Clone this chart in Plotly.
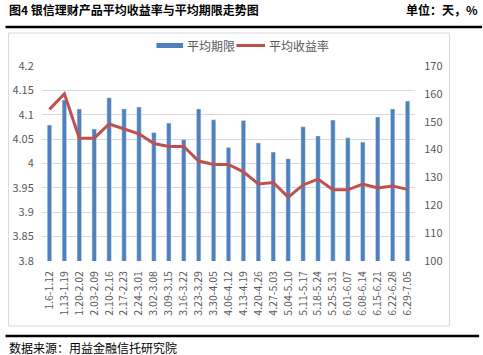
import plotly.graph_objects as go

categories = ["1.6-1.12", "1.13-1.19", "1.20-2.02", "2.03-2.09", "2.10-2.16", "2.17-2.23",
              "2.24-3.01", "3.02-3.08", "3.09-3.15", "3.16-3.22", "3.23-3.29", "3.30-4.05",
              "4.06-4.12", "4.13-4.19", "4.20-4.26", "4.27-5.03", "5.04-5.10", "5.11-5.17",
              "5.18-5.24", "5.25-5.31", "6.01-6.07", "6.08-6.14", "6.15-6.21", "6.22-6.28",
              "6.29-7.05"]
avg_term = [148.8, 157.8, 154.6, 147.4, 158.6, 154.6, 155.3, 146.1, 149.5, 143.6, 154.6, 150.7,
            140.7, 150.4, 142.4, 139.1, 136.7, 148.2, 144.9, 150.6, 144.2, 142.7, 151.7, 154.6,
            157.4]
avg_yield = [4.111, 4.143, 4.052, 4.052, 4.081, 4.071, 4.061, 4.041, 4.035, 4.035, 4.005, 3.998,
             3.998, 3.983, 3.958, 3.961, 3.931, 3.956, 3.968, 3.946, 3.946, 3.958, 3.950, 3.954,
             3.947]
left_ticks = [3.8, 3.85, 3.9, 3.95, 4.0, 4.05, 4.1, 4.15, 4.2]
left_tick_text = ["3.8", "3.85", "3.9", "3.95", "4", "4.05", "4.1", "4.15", "4.2"]
right_ticks = [100, 110, 120, 130, 140, 150, 160, 170]

BLUE = "#4F81BD"
RED = "#C0504D"
GRAY = "#595959"
FONT = "Noto Sans CJK SC"

W, H = 483, 355
L, R, T, B = 37, 415, 66, 261


def px(x):
    return (x - L) / (R - L)


def py(y):
    return (B - y) / (B - T)


fig = go.Figure()
fig.add_trace(go.Bar(x=categories, y=avg_term, marker_color=BLUE, yaxis="y",
                     showlegend=False, name="平均期限"))
fig.add_trace(go.Scatter(x=categories, y=avg_yield, mode="lines", line=dict(color=RED, width=3),
                         name="平均收益率", yaxis="y2", showlegend=False))

fig.update_layout(
    width=W, height=H,
    margin=dict(l=L, r=W - R, t=T, b=H - B),
    paper_bgcolor="white", plot_bgcolor="white",
    font=dict(family=FONT, color=GRAY, size=11),
    bargap=0.7,
    xaxis=dict(type="category", tickangle=-90, tickfont=dict(size=10.5, color=GRAY),
               showgrid=False, ticks="outside", ticklen=5, tickcolor="rgba(0,0,0,0)",
               showline=False),
    yaxis=dict(side="right", range=[100, 170], tickvals=right_ticks, showgrid=False,
               zeroline=False, ticks="outside", ticklen=6, tickcolor="rgba(0,0,0,0)",
               tickfont=dict(size=11, color=GRAY)),
    yaxis2=dict(side="left", overlaying="y", range=[3.8, 4.2], tickvals=left_ticks,
                ticktext=left_tick_text, showgrid=True, gridcolor="#D9D9D9", gridwidth=1,
                zeroline=False, ticks="outside", ticklen=5, tickcolor="rgba(0,0,0,0)",
                tickfont=dict(size=11, color=GRAY)),
    shapes=[
        dict(type="rect", xref="paper", yref="paper", x0=px(3), x1=px(450), y0=py(326),
             y1=py(33), line=dict(color="#D9D9D9", width=1), layer="below"),
        dict(type="line", xref="paper", yref="paper", x0=px(0), x1=px(483), y0=py(27),
             y1=py(27), line=dict(color="black", width=2.5)),
        dict(type="line", xref="paper", yref="paper", x0=px(0), x1=px(480), y0=py(336),
             y1=py(336), line=dict(color="black", width=2.5)),
        # legend symbols
        dict(type="rect", xref="paper", yref="paper", x0=px(153), x1=px(180), y0=py(48),
             y1=py(43), fillcolor=BLUE, line=dict(width=0)),
        dict(type="line", xref="paper", yref="paper", x0=px(234), x1=px(263), y0=py(45.5),
             y1=py(45.5), line=dict(color=RED, width=3)),
    ],
    annotations=[
        dict(text="<b>图4 银信理财产品平均收益率与平均期限走势图</b>", xref="paper", yref="paper",
             x=px(2), y=py(10), xanchor="left", yanchor="middle", showarrow=False,
             font=dict(family=FONT, size=12, color="black")),
        dict(text="<b>单位：天，%</b>", xref="paper", yref="paper",
             x=px(481), y=py(10), xanchor="right", yanchor="middle", showarrow=False,
             font=dict(family=FONT, size=12, color="black")),
        dict(text="数据来源：用益金融信托研究院", xref="paper", yref="paper",
             x=px(2), y=py(347), xanchor="left", yanchor="middle", showarrow=False,
             font=dict(family=FONT, size=12, color="black")),
        dict(text="平均期限", xref="paper", yref="paper", x=px(182), y=py(45.5),
             xanchor="left", yanchor="middle", showarrow=False,
             font=dict(family=FONT, size=12, color=GRAY)),
        dict(text="平均收益率", xref="paper", yref="paper", x=px(265), y=py(45.5),
             xanchor="left", yanchor="middle", showarrow=False,
             font=dict(family=FONT, size=12, color=GRAY)),
    ],
)

fig.write_html("out.html", config={"displayModeBar": False},
               post_script="document.body.style.margin='0';")
